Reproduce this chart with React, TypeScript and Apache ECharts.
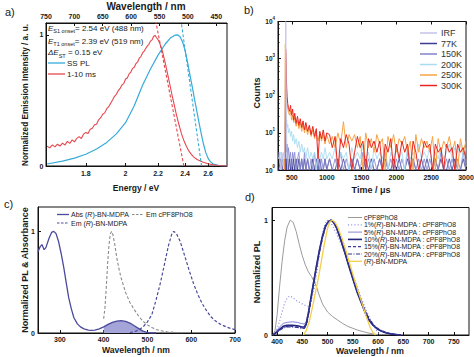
import React, { useEffect, useRef } from 'react';
import * as echarts from 'echarts';

const FONT = '"Liberation Sans", Arial, Helvetica, sans-serif';

/* ---------------- a) SS PL and 1-10 ms delayed emission (energy in eV) ---------------- */
const ssPlEnergy = [1.64, 1.70, 1.75, 1.80, 1.85, 1.90, 1.95, 2.00, 2.05, 2.10, 2.15, 2.20, 2.25, 2.29, 2.32, 2.34, 2.36, 2.38, 2.40, 2.42, 2.44, 2.46, 2.48, 2.50, 2.52, 2.54, 2.56, 2.58, 2.60, 2.62, 2.65, 2.70, 2.79];
const ssPlIntensity = [0.015, 0.037, 0.06, 0.09, 0.13, 0.18, 0.245, 0.33, 0.46, 0.615, 0.74, 0.845, 0.93, 0.978, 0.997, 1.0, 0.985, 0.945, 0.88, 0.79, 0.69, 0.6, 0.5, 0.41, 0.32, 0.235, 0.16, 0.1, 0.06, 0.035, 0.015, 0.005, 0.001];

const delayedEnergy = [1.64, 1.65, 1.66, 1.67, 1.68, 1.69, 1.70, 1.71, 1.72, 1.73, 1.74, 1.75, 1.76, 1.77, 1.78, 1.79, 1.80, 1.81, 1.82, 1.83, 1.84, 1.85, 1.86, 1.87, 1.88, 1.89, 1.90, 1.91, 1.92, 1.93, 1.94, 1.95, 1.96, 1.97, 1.98, 1.99, 2.00, 2.01, 2.02, 2.03, 2.04, 2.05, 2.06, 2.07, 2.08, 2.09, 2.10, 2.11, 2.12, 2.13, 2.14, 2.15, 2.16, 2.17, 2.18, 2.19, 2.20, 2.21, 2.22, 2.23, 2.24, 2.25, 2.26, 2.27, 2.28, 2.29, 2.30, 2.31, 2.32, 2.33, 2.34, 2.35, 2.36, 2.37, 2.38, 2.39, 2.41, 2.43, 2.45, 2.47, 2.50, 2.55, 2.60, 2.65, 2.70, 2.79];
const delayedIntensity = [
  0.150, 0.138, 0.161, 0.146, 0.166, 0.152, 0.174, 0.160, 0.188, 0.172,
  0.199, 0.184, 0.211, 0.224, 0.209, 0.243, 0.256, 0.247, 0.281, 0.288,
  0.315, 0.318, 0.352, 0.368, 0.394, 0.405, 0.437, 0.452, 0.478, 0.503,
  0.531, 0.546, 0.574, 0.591, 0.617, 0.628, 0.663, 0.671, 0.702, 0.716,
  0.744, 0.752, 0.781, 0.793, 0.822, 0.834, 0.862, 0.875, 0.897, 0.915,
  0.928, 0.952, 0.961, 0.987, 0.996, 0.978, 0.962,
  0.94, 0.91, 0.875, 0.83, 0.785, 0.735, 0.685, 0.635, 0.585, 0.535, 0.49, 0.445, 0.40, 0.36, 0.32, 0.285, 0.25, 0.22, 0.195,
  0.15, 0.115, 0.09, 0.07, 0.05, 0.03, 0.017, 0.009, 0.004, 0.001,
];
const onsetS1Energy = [2.54, 2.37];
const onsetS1Level = [0, 1.09];
const onsetT1Energy = [2.39, 2.187];
const onsetT1Level = [0, 1.09];
const energyTicks = [1.8, 2, 2.2, 2.4, 2.6];
const topWavelengthTicks = [750, 700, 650, 600, 550, 500, 450];
const intensityTicks = [0, 1];

/* ---------------- b) transient decays ---------------- */
const decayNames = ['IRF', '77K', '150K', '200K', '250K', '300K'];
const timeUs = [310, 340, 370, 395, 405, 410, 415, 420, 425, 430, 440, 450, 465, 480, 495, 510, 525, 540, 560, 580, 600, 620, 640, 660, 680, 700, 725, 750, 775, 800, 825, 850, 875, 900, 925, 950, 975, 1000,
  1040, 1080, 1120, 1160, 1200, 1240, 1280, 1320, 1360, 1400, 1440, 1480, 1520, 1560, 1600, 1640, 1680, 1720, 1760, 1800, 1840, 1880, 1920, 1960, 2000, 2040, 2080, 2120, 2160, 2200, 2240, 2280, 2320, 2360, 2400, 2440, 2480, 2520, 2560, 2600, 2640, 2680, 2720, 2760, 2800, 2840, 2880, 2920, 2960, 3000];
const counts77K = [1, 2, 1, 1, 8, 3, 2, 1, 2, 1, 2, 1, 2, 1, 2, 1, 2, 1, 2, 1, 2, 1, 2, 1, 2, 1, 2, 1, 1, 2, 1, 2, 1, 2, 1, 1, 2, 1,
  2, 1, 1, 2, 1, 2, 1, 1, 2, 1, 2, 1, 1, 2, 1, 2, 1, 1, 2, 1, 2, 1, 1, 2, 1, 2, 1, 1, 2, 1, 2, 1, 1, 2, 1, 2, 1, 1, 2, 1, 2, 1, 1, 2, 1, 2, 1, 1, 2, 1];
const counts150K = [3, 1, 2, 1, 20, 8, 5, 4, 3, 5, 2, 4, 2, 3, 1, 3, 2, 3, 1, 2, 3, 1, 2, 1, 3, 1, 2, 1, 2, 1, 3, 1, 2, 1, 2, 1, 2, 1,
  2, 1, 2, 1, 3, 1, 2, 1, 2, 1, 2, 1, 3, 1, 2, 1, 2, 1, 2, 1, 3, 1, 2, 1, 2, 1, 2, 1, 3, 1, 2, 1, 2, 1, 2, 1, 2, 1, 2, 1, 3, 1, 2, 1, 2, 1, 2, 1, 3, 1, 2, 1];
const counts200K = [2, 3, 2, 1, 60, 30, 25, 18, 22, 14, 17, 10, 13, 8, 11, 6, 9, 5, 7, 4, 6, 3, 5, 3, 4, 2, 4, 2, 3, 2, 3, 1, 3, 2, 3, 2, 4, 2,
  3, 2, 4, 1, 3, 2, 3, 1, 4, 2, 3, 2, 5, 2, 3, 1, 4, 2, 3, 2, 4, 1, 3, 2, 4, 2, 3, 1, 4, 2, 3, 2, 5, 2, 3, 2, 4, 1, 3, 2, 4, 2, 3, 5, 2, 4, 3, 5, 2, 4];
const counts250K = [null, null, null, 1, 2500, 1200, 500, 200, 110, 70, 45, 36, 30, 40, 22, 30, 19, 26, 15, 22, 13, 19, 11, 17, 10, 15, 9, 14, 8, 12, 7, 11, 6, 10, 6, 9, 5, 9,
  5, 8, 4, 10, 5, 20, 4, 9, 6, 9, 4, 8, 1, 10, 4, 7, 3, 9, 5, 7, 1, 8, 4, 9, 3, 7, 5, 8, 3, 6, 1, 9, 3, 7, 4, 6, 3, 8, 1, 7, 3, 6, 4, 8, 3, 6, 1, 7, 3, 6];
const counts300K = [null, null, null, null, 1, 1800, 900, 320, 160, 95, 62, 48, 38, 55, 30, 44, 22, 34, 18, 28, 16, 24, 14, 21, 12, 19, 11, 16, 9, 15, 8, 13, 2, 11, 7, 12, 6, 10,
  9, 4, 8, 1, 7, 4, 9, 5, 1, 3, 8, 4, 6, 1, 7, 4, 6, 3, 6, 1, 5, 3, 7, 1, 5, 2, 6, 3, 5, 1, 6, 3, 1, 2, 6, 4, 5, 1, 5, 3, 4, 1, 5, 3, 4, 1, 5, 3, 4, 2];
const irfTimeUs = [310, 325, 340, 355, 370, 385, 398, 404, 408, 412, 416, 420, 426, 432, 440];
const irfCounts = [2, 3, 1, 3, 2, 3, 2, 30, 2000, 10000, 900, 40, 4, 2, 1];
const timeTicks = [500, 1000, 1500, 2000, 2500, 3000];

/* ---------------- c) absorption and emission spectra ---------------- */
const cLegendLabels = ['Abs (R)-BN-MDPA', 'Em cPF8PhO8', 'Em (R)-BN-MDPA'];
const absWl = [250, 255, 259, 264, 268, 275, 281, 286, 291, 297, 303, 309, 315, 320, 326, 332, 340, 347, 355, 365, 372, 380, 390, 400, 410, 420, 430, 440, 450, 460, 470, 480, 490, 500, 510, 520];
const absValue = [0.8, 0.85, 0.87, 0.82, 0.84, 0.93, 0.99, 1.0, 0.98, 0.9, 0.78, 0.64, 0.48, 0.35, 0.24, 0.15, 0.09, 0.06, 0.04, 0.028, 0.025, 0.028, 0.04, 0.06, 0.085, 0.105, 0.117, 0.121, 0.115, 0.098, 0.072, 0.043, 0.018, 0.003, 0.0, 0.0];
const emHostWl = [400, 403, 406, 409, 412, 415, 418, 421, 425, 430, 435, 440, 450, 460, 470, 480, 490, 500, 510, 520, 530, 545, 560, 580];
const emHostValue = [0.14, 0.25, 0.45, 0.68, 0.86, 0.97, 1.0, 0.97, 0.88, 0.74, 0.63, 0.54, 0.4, 0.3, 0.23, 0.165, 0.115, 0.08, 0.055, 0.035, 0.022, 0.012, 0.006, 0.002];
const emBnWl = [460, 470, 480, 490, 500, 510, 520, 530, 540, 548, 556, 560, 566, 575, 585, 595, 605, 615, 625, 635, 645, 655, 665, 680, 690, 700];
const emBnValue = [0.005, 0.012, 0.03, 0.06, 0.11, 0.18, 0.33, 0.5, 0.7, 0.86, 0.98, 1.0, 0.98, 0.9, 0.76, 0.62, 0.49, 0.38, 0.29, 0.22, 0.16, 0.12, 0.09, 0.06, 0.045, 0.033];
const absShadeRange = [400, 500];
const cWlTicks = [300, 400, 500, 600, 700];
const cTicks = [0, 1];

/* ---------------- d) doped film PL ---------------- */
const dLegendLabels = ['cPF8PhO8', '1%(R)-BN-MDPA : cPF8PhO8', '5%(R)-BN-MDPA : cPF8PhO8', '10%(R)-BN-MDPA : cPF8PhO8', '15%(R)-BN-MDPA : cPF8PhO8', '20%(R)-BN-MDPA : cPF8PhO8', '(R)-BN-MDPA'];
const hostWl = [392, 396, 400, 405, 410, 415, 420, 426, 432, 438, 444, 450, 456, 462, 468, 473, 478, 484, 490, 500, 510, 520, 530, 540, 550, 560, 570, 580, 590, 600];
const hostPl = [0.0, 0.04, 0.17, 0.42, 0.64, 0.82, 0.94, 1.0, 0.98, 0.9, 0.79, 0.69, 0.61, 0.55, 0.51, 0.47, 0.42, 0.34, 0.27, 0.2, 0.16, 0.13, 0.1, 0.075, 0.058, 0.042, 0.03, 0.018, 0.009, 0.002];
const dope1Wl = [392, 398, 405, 410, 415, 420, 425, 430, 438, 446, 454, 462, 468, 474, 480, 486, 492, 498, 504, 510, 518, 526, 534, 542, 550, 558, 566, 574, 582, 590, 598, 605];
const dope1Pl = [0.0, 0.03, 0.12, 0.2, 0.28, 0.32, 0.34, 0.33, 0.3, 0.28, 0.26, 0.25, 0.3, 0.42, 0.58, 0.78, 0.93, 1.0, 0.99, 0.95, 0.88, 0.8, 0.71, 0.61, 0.52, 0.43, 0.33, 0.24, 0.16, 0.09, 0.03, 0.0];
const dopeWl = [392, 398, 405, 412, 420, 430, 440, 448, 454, 458, 462, 467, 472, 478, 484, 490, 496, 502, 507, 512, 518, 526, 534, 542, 550, 558, 566, 574, 582, 590, 598, 606, 615, 625, 635, 645];
const dope5Pl = [0.0, 0.03, 0.07, 0.1, 0.11, 0.115, 0.11, 0.1, 0.095, 0.12, 0.2, 0.33, 0.46, 0.61, 0.75, 0.87, 0.955, 0.99, 1.0, 0.975, 0.925, 0.825, 0.715, 0.6, 0.485, 0.375, 0.285, 0.195, 0.125, 0.08, 0.05, 0.032, 0.018, 0.009, 0.004, 0.0];
const dope10Pl = [0.0, 0.02, 0.05, 0.075, 0.085, 0.085, 0.08, 0.072, 0.07, 0.1, 0.19, 0.32, 0.45, 0.6, 0.74, 0.86, 0.95, 0.99, 1.0, 0.98, 0.93, 0.83, 0.72, 0.6, 0.49, 0.38, 0.29, 0.2, 0.13, 0.085, 0.055, 0.035, 0.02, 0.01, 0.005, 0.0];
const dope15Pl = [0.0, 0.02, 0.045, 0.065, 0.075, 0.075, 0.07, 0.064, 0.062, 0.09, 0.18, 0.31, 0.44, 0.59, 0.73, 0.85, 0.945, 0.99, 1.0, 0.985, 0.935, 0.84, 0.73, 0.61, 0.5, 0.39, 0.3, 0.21, 0.14, 0.09, 0.058, 0.037, 0.022, 0.011, 0.005, 0.0];
const dope20Pl = [0.0, 0.018, 0.042, 0.06, 0.07, 0.07, 0.066, 0.06, 0.058, 0.085, 0.17, 0.3, 0.43, 0.58, 0.72, 0.845, 0.94, 0.985, 1.0, 0.985, 0.94, 0.845, 0.735, 0.615, 0.505, 0.395, 0.305, 0.215, 0.145, 0.095, 0.06, 0.04, 0.024, 0.012, 0.006, 0.0];
const neatWl = [452, 458, 464, 470, 476, 482, 488, 494, 500, 505, 510, 515, 520, 528, 536, 544, 552, 560, 568, 576, 584, 590, 595];
const neatPl = [0.0, 0.04, 0.12, 0.24, 0.37, 0.5, 0.65, 0.8, 0.93, 0.99, 1.0, 0.98, 0.94, 0.85, 0.74, 0.62, 0.5, 0.39, 0.28, 0.17, 0.07, 0.02, 0.0];
const dWlTicks = [400, 450, 500, 550, 600, 650, 700, 750];
const dTicks = [0, 1];

/* ---------------- helpers ---------------- */
const pairs = (x: number[], y: (number | null)[]) => x.map((v, i) => [v, y[i]]);
const eToNm = (e: number) => 1240 / e;

function valueAxis(o: any) {
  return {
    type: 'value',
    gridIndex: o.grid,
    position: o.position,
    min: o.min,
    max: o.max,
    inverse: !!o.inverse,
    axisLine: { show: true, onZero: false, lineStyle: { color: '#111', width: 1 } },
    axisTick: { show: true, inside: true, length: 3, customValues: o.ticks, lineStyle: { color: '#111', width: 1 } },
    axisLabel: {
      show: o.showLabels !== false,
      customValues: o.ticks,
      margin: o.margin ?? 3,
      formatter: o.formatter ?? ((v: number) => String(v)),
      fontSize: 7,
      fontWeight: 'bold',
      fontFamily: FONT,
      color: '#1a1a1a',
    },
    splitLine: { show: false },
  };
}

function line(x: number[], y: (number | null)[], xi: number, yi: number, color: string, width: number, type: any = 'solid', z = 2) {
  return {
    type: 'line',
    xAxisIndex: xi,
    yAxisIndex: yi,
    data: pairs(x, y),
    symbol: 'none',
    showSymbol: false,
    silent: true,
    z,
    lineStyle: { color, width, type },
    itemStyle: { color },
  };
}

function txt(x: number, y: number, text: string, font: string, o: any = {}) {
  const align = o.align ?? 'left';
  return {
    type: 'text',
    x,
    y,
    rotation: o.rot ?? 0,
    silent: true,
    z: 100,
    style: {
      text,
      font,
      fill: o.fill ?? '#1a1a1a',
      align,
      verticalAlign: 'middle',
      textAlign: align,
      textVerticalAlign: 'middle',
      lineHeight: o.lineHeight,
      rich: o.rich,
    },
  };
}

function seg(x1: number, x2: number, y: number, stroke: string, lineWidth: number, lineDash?: number[]) {
  return {
    type: 'line',
    silent: true,
    z: 100,
    shape: { x1, y1: y, x2, y2: y },
    style: { stroke, lineWidth, lineDash },
  };
}

const richR = (s: string) => {
  const parts = s.split('(R)');
  if (parts.length === 1) return `{n|${s}}`;
  return `${parts[0] ? `{n|${parts[0]}(}` : '{n|(}'}{i|R}{n|)${parts[1]}}`;
};

const BLUE_A = '#37abd9';
const RED_A = '#e6474d';
const NAVY = '#4a4a9c';
const decayColors = ['#c3c3e8', '#3b3b95', '#8383cf', '#a9dcf2', '#f6a347', '#e8261f'];
const decayWidths = [0.9, 0.8, 0.8, 0.9, 1.0, 1.0];
const dColors = ['#9b9b9b', '#8a8ae0', '#8585d6', '#26267c', '#3c3c9e', '#30308e', '#f2d04a'];
const dTypes: any[] = ['solid', [1, 2.2], 'solid', 'solid', [3, 2], [4, 1.5, 1, 1.5], 'solid'];
const dWidths = [1, 1.2, 1, 1.6, 1.2, 1.2, 1.3];

export default function App() {
  const ref = useRef<HTMLDivElement>(null);

  useEffect(() => {
    if (!ref.current) return;
    const chart = echarts.init(ref.current, undefined, { renderer: 'svg' });

    const shade = absWl
      .map((w, i) => [w, absValue[i]])
      .filter((p) => p[0] >= absShadeRange[0] && p[0] <= absShadeRange[1]);

    const dPl = [hostPl, dope1Pl, dope5Pl, dope10Pl, dope15Pl, dope20Pl, neatPl];
    const dWls = [hostWl, dope1Wl, dopeWl, dopeWl, dopeWl, dopeWl, neatWl];
    const decayCounts = [irfCounts, counts77K, counts150K, counts200K, counts250K, counts300K];
    const decayTimes = [irfTimeUs, timeUs, timeUs, timeUs, timeUs, timeUs];

    const richA = {
      i: { fontFamily: FONT, fontSize: 8, fontStyle: 'italic', lineHeight: 12, color: '#1a1a1a' },
      n: { fontFamily: FONT, fontSize: 8, lineHeight: 12, color: '#1a1a1a' },
      s: { fontFamily: FONT, fontSize: 5.5, verticalAlign: 'bottom', color: '#1a1a1a' },
    };
    const richLeg = (size: number, lh: number) => ({
      n: { fontFamily: FONT, fontSize: size, lineHeight: lh, color: '#2a2a2a' },
      i: { fontFamily: FONT, fontSize: size, lineHeight: lh, fontStyle: 'italic', color: '#2a2a2a' },
    });

    const graphic: any[] = [
      // panel labels
      txt(5, 12, 'a)', `11px ${FONT}`),
      txt(244, 10, 'b)', `11px ${FONT}`),
      txt(4, 204, 'c)', `11px ${FONT}`),
      txt(245, 197, 'd)', `11px ${FONT}`),
      // a titles
      txt(146, 6, 'Wavelength / nm', `bold 10px ${FONT}`, { align: 'center', lineHeight: 10 }),
      txt(136, 187.5, 'Energy / eV', `bold 8.5px ${FONT}`, { align: 'center' }),
      txt(25, 95, 'Normalized Emission Intensity / a. u.', `bold 8.2px ${FONT}`, { align: 'center', rot: Math.PI / 2 }),
      // a annotations
      txt(48, 28, '{i|E}{s|S1 onset}{n|= 2.54 eV (488 nm)}', `8px ${FONT}`, { rich: richA }),
      txt(48, 41, '{i|E}{s|T1 onset}{n|= 2.39 eV (519 nm)}', `8px ${FONT}`, { rich: richA }),
      txt(48, 52.5, '{i|ΔE}{s|ST}{n| = 0.15 eV}', `8px ${FONT}`, { rich: richA }),
      seg(48, 65, 63, BLUE_A, 1.3),
      txt(67, 63, 'SS PL', `8px ${FONT}`, { lineHeight: 9 }),
      seg(48, 65, 74, RED_A, 1.3),
      txt(67, 74, '1-10 ms', `8px ${FONT}`, { lineHeight: 9 }),
      // b titles
      txt(257, 93, 'Counts', `bold 9px ${FONT}`, { align: 'center', rot: Math.PI / 2 }),
      txt(371, 189.5, 'Time / μs', `bold 9px ${FONT}`, { align: 'center' }),
      // c titles
      txt(25, 270, 'Normalized PL & Absorbance', `bold 9px ${FONT}`, { align: 'center', rot: Math.PI / 2 }),
      txt(136, 349.5, 'Wavelength / nm', `bold 8.6px ${FONT}`, { align: 'center' }),
      // d titles
      txt(257, 272, 'Normalized PL', `bold 9px ${FONT}`, { align: 'center', rot: Math.PI / 2 }),
      txt(370, 351, 'Wavelength / nm', `bold 8.6px ${FONT}`, { align: 'center' }),
    ];

    // b legend
    decayNames.forEach((name, i) => {
      const y = 33 + i * 10.5;
      graphic.push(seg(420, 437, y, decayColors[i], 1.5));
      graphic.push(txt(441, y, name, `9px ${FONT}`, { fill: '#333', lineHeight: 10 }));
    });

    // c legend
    graphic.push(seg(57, 69, 214.5, NAVY, 1.3));
    graphic.push(txt(71, 214.5, richR(cLegendLabels[0]), `7px ${FONT}`, { rich: richLeg(7, 8) }));
    graphic.push(seg(132, 144, 214.5, '#8a8a8a', 1, [2.5, 1.5]));
    graphic.push(txt(146, 214.5, richR(cLegendLabels[1]), `7px ${FONT}`, { rich: richLeg(7, 8) }));
    graphic.push(seg(57, 69, 223, NAVY, 1.2, [2.5, 1.5]));
    graphic.push(txt(71, 223, richR(cLegendLabels[2]), `7px ${FONT}`, { rich: richLeg(7, 8) }));

    // d legend
    dLegendLabels.forEach((label, i) => {
      const y = 217.5 + i * 7.3;
      const t = dTypes[i];
      graphic.push(seg(348, 362, y, dColors[i], dWidths[i], Array.isArray(t) ? t : undefined));
      graphic.push(txt(364, y, richR(label), `6.9px ${FONT}`, { rich: richLeg(6.9, 7) }));
    });

    const series: any[] = [
      // a
      line(ssPlEnergy.map(eToNm), ssPlIntensity, 0, 0, BLUE_A, 1.2),
      line(delayedEnergy.map(eToNm), delayedIntensity, 0, 0, RED_A, 1.1),
      line(onsetS1Energy.map(eToNm), onsetS1Level, 0, 0, BLUE_A, 1.1, [3, 2]),
      line(onsetT1Energy.map(eToNm), onsetT1Level, 0, 0, RED_A, 1.1, [3, 2]),
    ];
    // b: draw 77K..300K, then IRF on top
    [1, 2, 3, 4, 5, 0].forEach((k) => {
      series.push(line(decayTimes[k], decayCounts[k], 2, 1, decayColors[k], decayWidths[k]));
    });
    // c
    series.push({
      type: 'line',
      xAxisIndex: 4,
      yAxisIndex: 2,
      data: shade,
      symbol: 'none',
      silent: true,
      z: 1,
      lineStyle: { width: 0, opacity: 0 },
      areaStyle: { color: '#a4a4d8', opacity: 1 },
    });
    series.push(line(absWl, absValue, 4, 2, NAVY, 1.3));
    series.push(line(emHostWl, emHostValue, 4, 2, '#8a8a8a', 1.1, [3, 2]));
    series.push(line(emBnWl, emBnValue, 4, 2, NAVY, 1.2, [3, 2]));
    // d
    dPl.forEach((pl, i) => {
      series.push(line(dWls[i], pl, 5, 3, dColors[i], dWidths[i], dTypes[i], 2 + i * 0.1));
    });

    const gridBase = { show: true, borderColor: '#111', borderWidth: 1, backgroundColor: 'transparent', containLabel: false, outerBoundsMode: 'none' };

    const option: any = {
      animation: false,
      backgroundColor: '#ffffff',
      textStyle: { fontFamily: FONT },
      grid: [
        { ...gridBase, left: 46, top: 23, width: 181, height: 143 },
        { ...gridBase, left: 278, top: 21.5, width: 188, height: 148.5 },
        { ...gridBase, left: 38, top: 207, width: 197, height: 126 },
        { ...gridBase, left: 272, top: 207.5, width: 197, height: 127.5 },
      ],
      xAxis: [
        valueAxis({
          grid: 0, position: 'bottom', min: 444, max: 758, inverse: true, margin: 4,
          ticks: energyTicks.map(eToNm),
          formatter: (v: number) => String(Math.round((1240 / v) * 10) / 10),
        }),
        valueAxis({ grid: 0, position: 'top', min: 431, max: 750, inverse: true, margin: 3, ticks: topWavelengthTicks }),
        valueAxis({ grid: 1, position: 'bottom', min: 300, max: 3000, margin: 3.5, ticks: timeTicks }),
        valueAxis({ grid: 1, position: 'top', min: 300, max: 3000, ticks: timeTicks, showLabels: false }),
        valueAxis({ grid: 2, position: 'bottom', min: 250, max: 700, margin: 3, ticks: cWlTicks }),
        valueAxis({ grid: 3, position: 'bottom', min: 390, max: 780, margin: 2.5, ticks: dWlTicks }),
      ],
      yAxis: [
        valueAxis({ grid: 0, position: 'left', min: 0, max: 1.09, margin: 2.5, ticks: intensityTicks }),
        {
          type: 'log',
          logBase: 10,
          gridIndex: 1,
          position: 'left',
          min: 1,
          max: 10000,
          axisLine: { show: true, onZero: false, lineStyle: { color: '#111', width: 1 } },
          axisTick: { show: true, inside: true, length: 3, lineStyle: { color: '#111' } },
          minorTick: { show: true, splitNumber: 5, length: 1.5, lineStyle: { color: '#111' } },
          splitLine: { show: false },
          axisLabel: {
            margin: 3,
            formatter: (v: number) => `{b|10}{s|${Math.round(Math.log10(v))}}`,
            rich: {
              b: { fontFamily: FONT, fontSize: 6.5, fontWeight: 'bold', lineHeight: 12, color: '#1a1a1a' },
              s: { fontFamily: FONT, fontSize: 4.5, fontWeight: 'bold', verticalAlign: 'top', color: '#1a1a1a' },
            },
          },
        },
        valueAxis({ grid: 2, position: 'left', min: 0, max: 1.24, margin: 3, ticks: cTicks }),
        valueAxis({ grid: 3, position: 'left', min: 0, max: 1.11, margin: 4, ticks: dTicks }),
      ],
      graphic,
      series,
    };

    chart.setOption(option);
    return () => chart.dispose();
  }, []);

  return (
    <div
      ref={ref}
      style={{ position: 'fixed', left: 0, top: 0, width: 474, height: 357, background: '#fff' }}
    />
  );
}
